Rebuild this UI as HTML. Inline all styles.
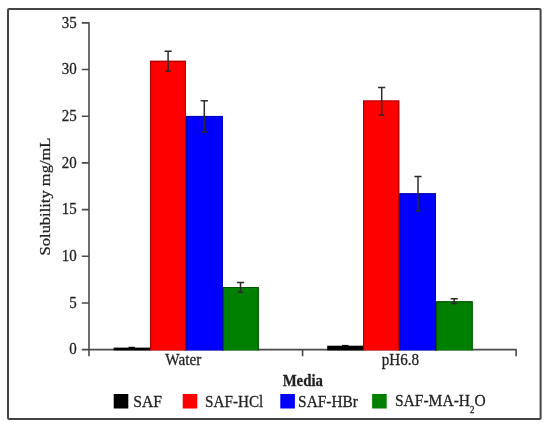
<!DOCTYPE html>
<html><head><meta charset="utf-8"><style>
html,body{margin:0;padding:0;background:#fff;width:550px;height:429px;overflow:hidden}
svg{display:block}
text{font-family:"Liberation Serif",serif;fill:#222;stroke:#222;stroke-width:0.25px}
</style></head><body>
<svg width="550" height="429" viewBox="0 0 550 429">
<rect x="0" y="0" width="550" height="429" fill="#fff"/>
<rect x="8" y="9.1" width="532.6" height="409.8" fill="none" stroke="#444" stroke-width="2" rx="1"/>
<g stroke="#4a4a4a" stroke-width="1.6" fill="none" stroke-linejoin="round"><path d="M81.8 22.9H89V356.2"/><path d="M81.8 349.65H516.1V356.2"/><path d="M302.6 349.65V356.2"/><path d="M81.8 303.0H89M81.8 256.3H89M81.8 209.6H89M81.8 162.9H89M81.8 116.2H89M81.8 69.5H89"/></g>
<g>
<rect x="113.6" y="347.6" width="36.4" height="2.8" fill="#000"/>
<rect x="150.0" y="60.8" width="36.0" height="289.6" fill="#f00"/>
<rect x="186.0" y="115.9" width="36.9" height="234.5" fill="#00f"/>
<rect x="222.9" y="287.0" width="35.9" height="63.4" fill="#008000"/>
<rect x="327.2" y="345.7" width="35.8" height="4.7" fill="#000"/>
<rect x="363.0" y="100.5" width="36.3" height="249.9" fill="#f00"/>
<rect x="399.3" y="193.3" width="36.7" height="157.1" fill="#00f"/>
<rect x="436.0" y="301.3" width="36.7" height="49.1" fill="#008000"/>
</g><g fill="none" stroke-width="1.1">
<path d="M150.55 350.40V61.35H185.45V350.40" stroke="#a80000"/>
<path d="M186.55 350.40V116.45H222.35V350.40" stroke="#0000b4"/>
<path d="M223.45 350.40V287.55H258.25V350.40" stroke="#005400"/>
<path d="M363.55 350.40V101.05H398.75V350.40" stroke="#a80000"/>
<path d="M399.85 350.40V193.85H435.45V350.40" stroke="#0000b4"/>
<path d="M436.55 350.40V301.85H472.15V350.40" stroke="#005400"/>
</g>
<g stroke="#2a2a2a" stroke-width="1.5" fill="none">
<path d="M168.1 51.3V71.3M164.5 51.3H171.7M165.5 71.3H170.7"/>
<path d="M204.3 100.8V132.0M200.70000000000002 100.8H207.9M201.70000000000002 132.0H206.9"/>
<path d="M240.5 282.5V292.3M236.9 282.5H244.1M237.9 292.3H243.1"/>
<path d="M381.7 87.6V114.9M378.09999999999997 87.6H385.3M379.09999999999997 114.9H384.3"/>
<path d="M418.0 176.5V210.8M414.4 176.5H421.6M415.4 210.8H420.6"/>
<path d="M454.2 298.8V303.6M450.59999999999997 298.8H457.8M451.59999999999997 303.6H456.8"/>
</g>
<g fill="#000"><rect x="128.5" y="346.8" width="6.5" height="1.2"/><rect x="342" y="344.9" width="6.5" height="1.2"/></g>
<text transform="translate(76.8,354.2) scale(1,1.12)" text-anchor="end" font-size="15" font-weight="normal">0</text>
<text transform="translate(76.8,307.6) scale(1,1.12)" text-anchor="end" font-size="15" font-weight="normal">5</text>
<text transform="translate(76.8,260.9) scale(1,1.12)" text-anchor="end" font-size="15" font-weight="normal">10</text>
<text transform="translate(76.8,214.2) scale(1,1.12)" text-anchor="end" font-size="15" font-weight="normal">15</text>
<text transform="translate(76.8,167.5) scale(1,1.12)" text-anchor="end" font-size="15" font-weight="normal">20</text>
<text transform="translate(76.8,120.8) scale(1,1.12)" text-anchor="end" font-size="15" font-weight="normal">25</text>
<text transform="translate(76.8,74.1) scale(1,1.12)" text-anchor="end" font-size="15" font-weight="normal">30</text>
<text transform="translate(76.8,27.5) scale(1,1.12)" text-anchor="end" font-size="15" font-weight="normal">35</text>
<text transform="translate(50.2,196.5) rotate(-90) scale(1.065,1)" text-anchor="middle" font-size="15.5">Solubility mg/mL</text>
<text transform="translate(165.3,364.8) scale(1,1.13)" text-anchor="start" font-size="15" font-weight="normal" textLength="35.9" lengthAdjust="spacingAndGlyphs">Water</text>
<text transform="translate(381.65,364.6) scale(1,1.06)" text-anchor="start" font-size="15" font-weight="normal" textLength="37.45" lengthAdjust="spacingAndGlyphs">pH6.8</text>
<text transform="translate(282.65,386.0) scale(1,1.08)" text-anchor="start" font-size="15" font-weight="bold" textLength="40.27" lengthAdjust="spacingAndGlyphs">Media</text>
<rect x="113.7" y="394" width="14.6" height="14.5" fill="#000"/>
<rect x="182.7" y="394" width="14.6" height="14.5" fill="#f00"/>
<rect x="280.3" y="394" width="14.6" height="14.5" fill="#00f"/>
<rect x="372.1" y="394" width="14.6" height="14.5" fill="#008000"/>
<text transform="translate(133.15,407.1) scale(1,1.12)" text-anchor="start" font-size="15" font-weight="normal" textLength="28.8" lengthAdjust="spacingAndGlyphs">SAF</text>
<text transform="translate(205.1,407.3) scale(1,1.1)" text-anchor="start" font-size="15" font-weight="normal" textLength="58.2" lengthAdjust="spacingAndGlyphs">SAF-HCl</text>
<text transform="translate(298.07,407.4) scale(1,1.1)" text-anchor="start" font-size="15" font-weight="normal" textLength="59.84" lengthAdjust="spacingAndGlyphs">SAF-HBr</text>
<text transform="translate(394.97,405.9) scale(1,1.1)" text-anchor="start" font-size="15" font-weight="normal" textLength="90.66" lengthAdjust="spacingAndGlyphs">SAF-MA-H<tspan font-size="8.5" dy="6">2</tspan><tspan dy="-6">O</tspan></text>
</svg>
</body></html>
